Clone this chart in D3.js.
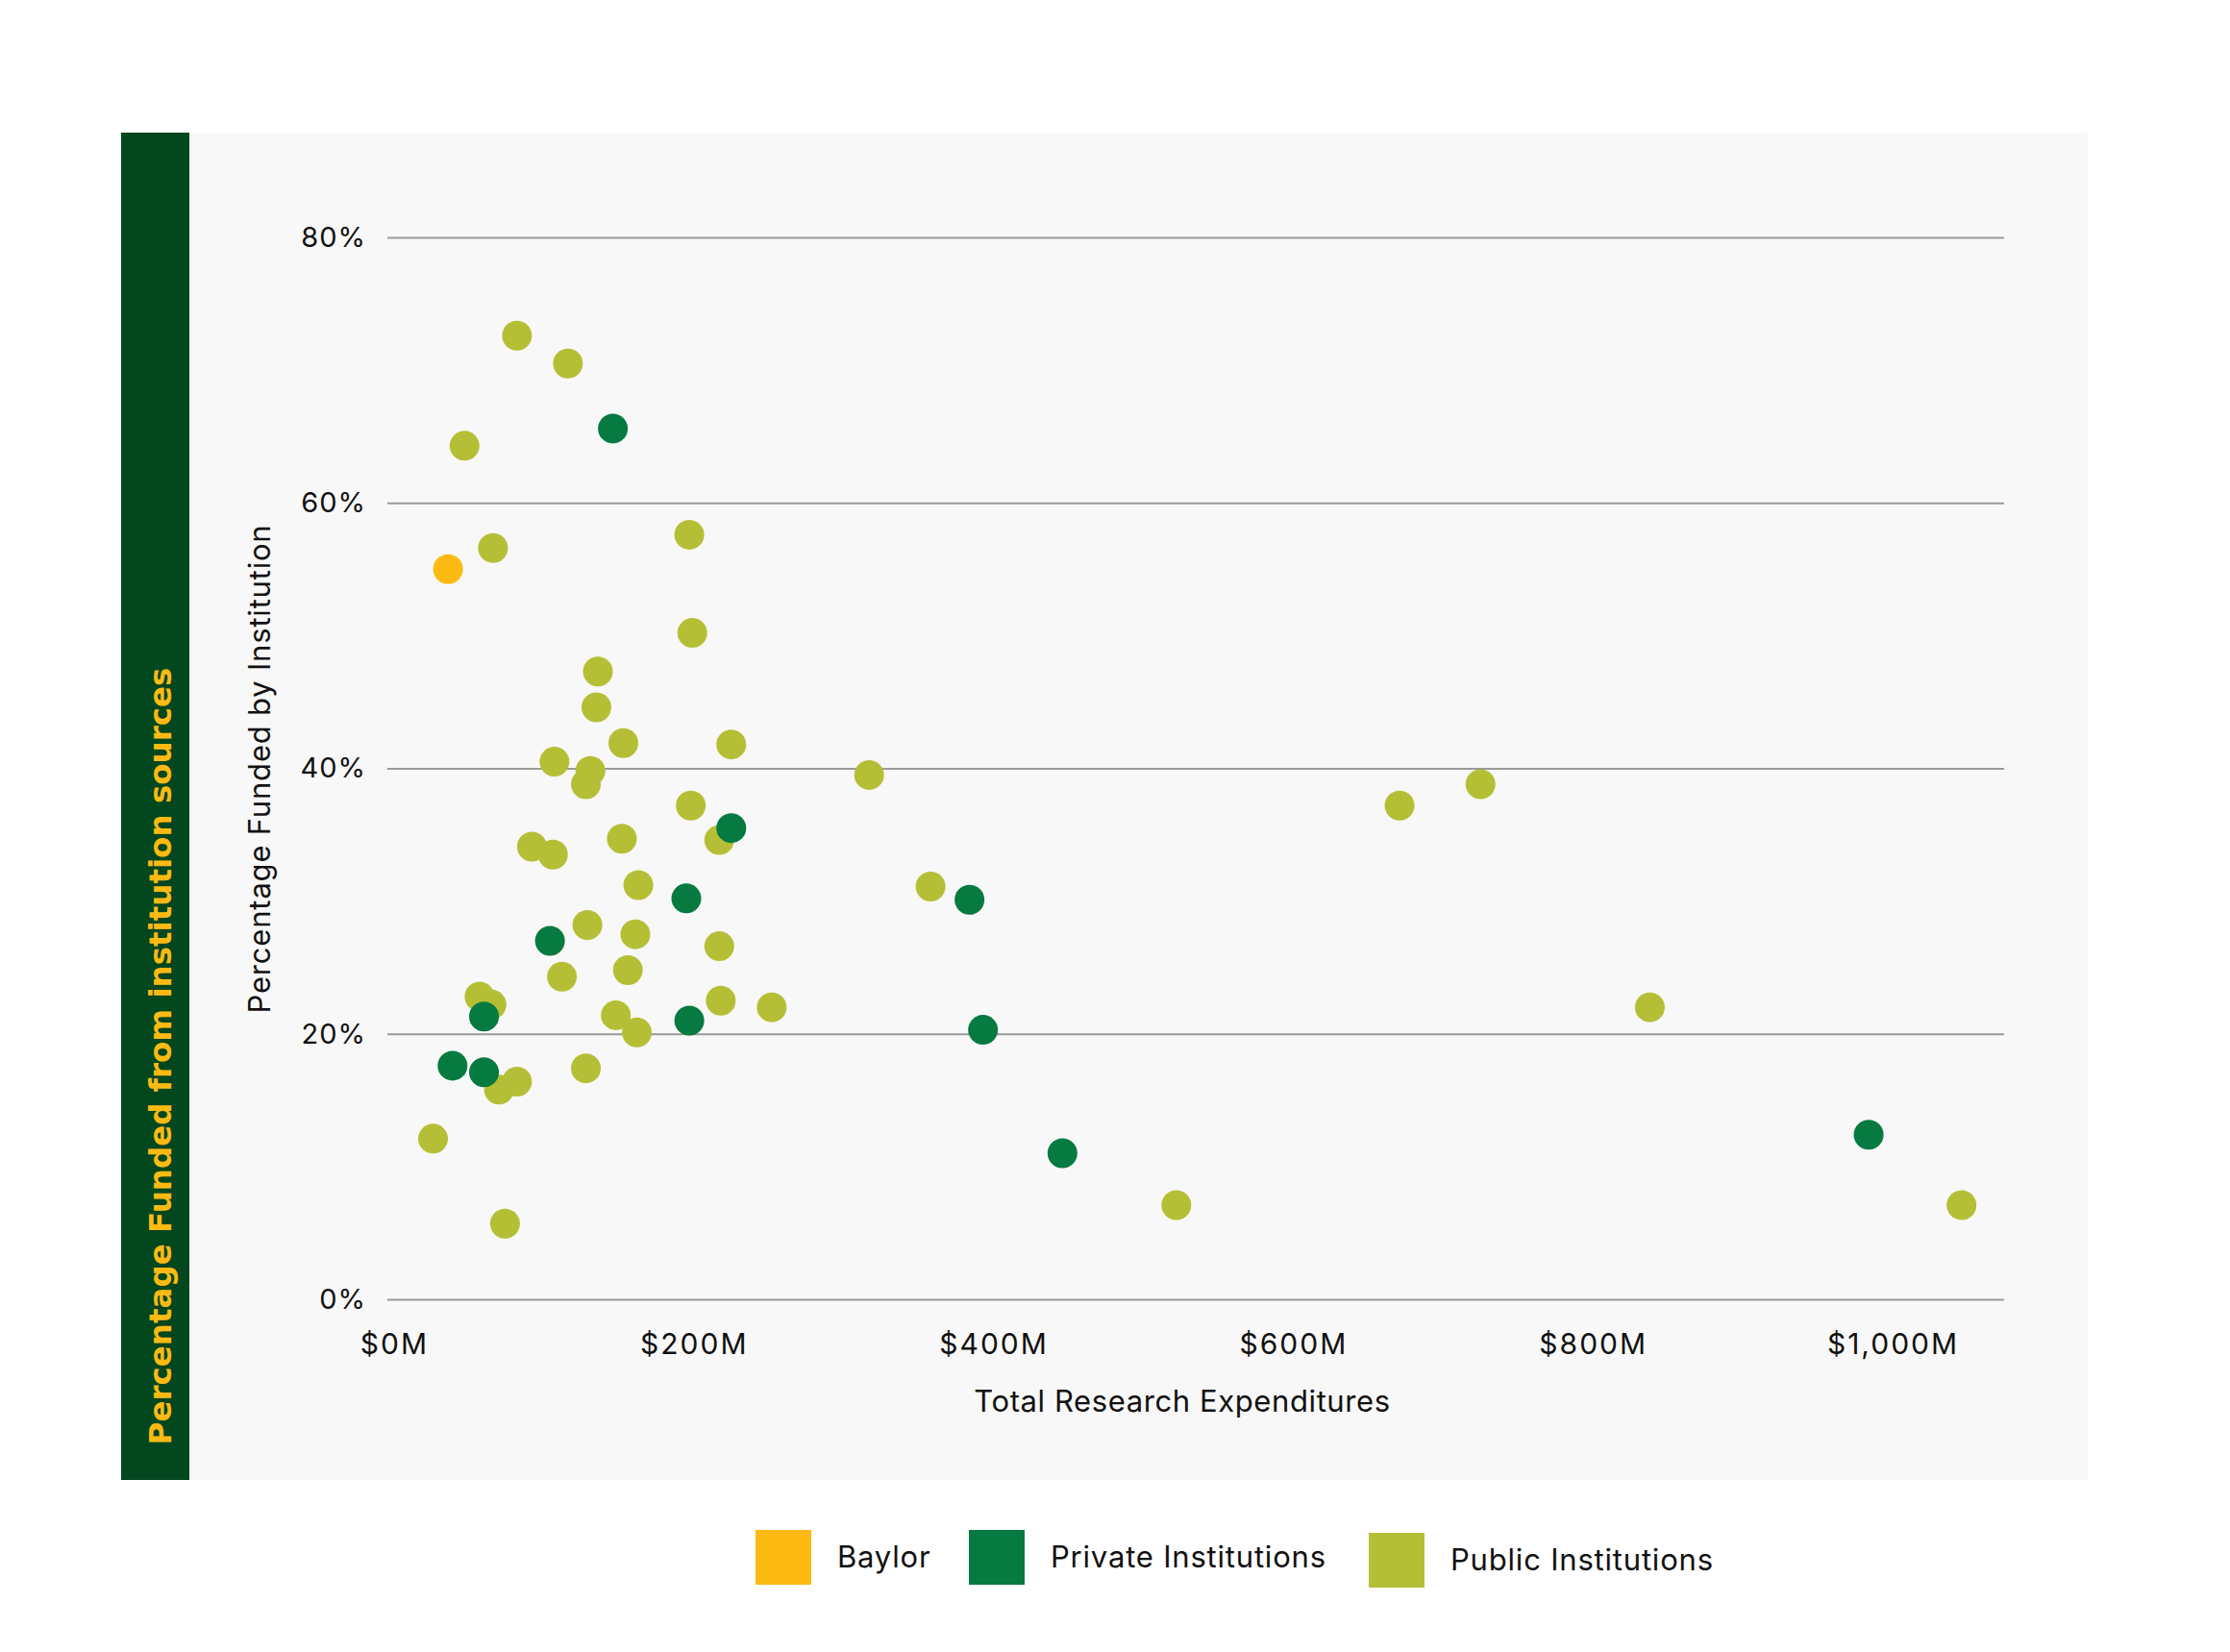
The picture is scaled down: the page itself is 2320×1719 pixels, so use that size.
<!DOCTYPE html>
<html>
<head>
<meta charset="utf-8">
<script src="https://cdn.jsdelivr.net/npm/d3@7"></script>
<style>
  body { margin: 0; background: #fff; }
  svg text { font-family: Inter, "Liberation Sans", Arial, sans-serif; fill: #111; }
</style>
</head>
<body>
<div class="chart"></div>
<script>
// values: expenditures in $M, funded share in %
const baylorX = [36];
const baylorY = [55.0];

const privateX = [146, 225, 195, 104, 60, 197, 39, 60, 384, 393, 446, 984];
const privateY = [65.6, 35.5, 30.2, 27.0, 21.3, 21.0, 17.6, 17.1, 30.1, 20.3, 11.0, 12.4];

const publicX = [82, 116, 47, 66, 197, 199, 136, 135, 153, 225, 107, 131, 128, 198, 317,
                 92, 106, 152, 217, 163, 129, 161, 217, 112, 156, 57, 65, 148, 162, 218,
                 252, 128, 82, 70, 26, 74, 358, 522, 671, 725, 838, 1046];
const publicY = [72.6, 70.5, 64.3, 56.6, 57.6, 50.2, 47.3, 44.6, 41.9, 41.8, 40.5, 39.8, 38.8, 37.2, 39.5,
                 34.1, 33.5, 34.7, 34.6, 31.2, 28.2, 27.5, 26.6, 24.3, 24.8, 22.8, 22.2, 21.4, 20.1, 22.5,
                 22.0, 17.4, 16.4, 15.8, 12.1, 5.7, 31.1, 7.1, 37.2, 38.8, 22.0, 7.1];

const xTicks = [0, 200, 400, 600, 800, 1000];
const yTicks = [0, 20, 40, 60, 80];

const legendOrder = ['Baylor', 'Private Institutions', 'Public Institutions'];
const colors = {'Baylor': '#fdba13', 'Private Institutions': '#067a40', 'Public Institutions': '#b5bf36'};

const width = 2320, height = 1719;

const svg = d3.select('.chart').append('svg')
    .attr('width', width).attr('height', height);

svg.append('rect').attr('width', width).attr('height', height).attr('fill', '#fff');

// side band + grey panel
svg.append('rect').attr('x', 126).attr('y', 138).attr('width', 71).attr('height', 1402).attr('fill', '#03471f');
svg.append('rect').attr('x', 197).attr('y', 138).attr('width', 1975).attr('height', 1402).attr('fill', '#f8f8f8');

svg.append('text')
    .attr('transform', 'translate(166,1099) rotate(-90)')
    .attr('text-anchor', 'middle')
    .attr('dy', '0.36em')
    .style('font-family', '"DejaVu Sans", sans-serif')
    .style('font-weight', 'bold')
    .style('font-size', '32.5px')
    .style('fill', '#fdba13')
    .text('Percentage Funded from institution sources');

const xScale = d3.scaleLinear().domain([0, 1000]).range([410, 1969]);
const yScale = d3.scaleLinear().domain([0, 80]).range([1352, 247]);

const gridLeft = 403, gridRight = 2085;

const yAxis = d3.axisLeft(yScale)
    .tickValues(yTicks)
    .tickFormat(d => d + '%')
    .tickSize(-(gridRight - gridLeft))
    .tickPadding(22);
const yAxisDraw = svg.append('g').attr('class', 'y axis')
    .attr('transform', `translate(${gridLeft},0)`)
    .call(yAxis);
yAxisDraw.select('.domain').remove();
yAxisDraw.selectAll('line').attr('stroke', '#9a9a9a').attr('stroke-width', 2);
yAxisDraw.selectAll('text').style('font-size', '29px').style('letter-spacing', '1px').style('fill', '#111');

const xAxis = d3.axisBottom(xScale)
    .tickValues(xTicks)
    .tickFormat(d => d3.format('$,')(d) + 'M')
    .tickSize(0)
    .tickPadding(0);
const xAxisDraw = svg.append('g').attr('class', 'x axis')
    .attr('transform', 'translate(0,1388)')
    .call(xAxis);
xAxisDraw.select('.domain').remove();
xAxisDraw.selectAll('text').style('font-size', '30px').style('letter-spacing', '2px').style('fill', '#111');

svg.append('text')
    .attr('x', 1230).attr('y', 1458)
    .attr('dy', '0.36em')
    .attr('text-anchor', 'middle')
    .style('font-size', '31px')
    .style('letter-spacing', '0.6px')
    .text('Total Research Expenditures');

svg.append('text')
    .attr('transform', 'translate(270,800) rotate(-90)')
    .attr('text-anchor', 'middle')
    .attr('dy', '0.36em')
    .style('font-size', '31px')
    .style('letter-spacing', '0.8px')
    .text('Percentage Funded by Institution');

// points: public first, private and Baylor on top
const points = [];
publicX.forEach((x, i) => points.push({group: 'Public Institutions', x: x, y: publicY[i]}));
privateX.forEach((x, i) => points.push({group: 'Private Institutions', x: x, y: privateY[i]}));
baylorX.forEach((x, i) => points.push({group: 'Baylor', x: x, y: baylorY[i]}));

svg.append('g').attr('class', 'dots')
  .selectAll('circle')
  .data(points)
  .join('circle')
    .attr('cx', d => xScale(d.x))
    .attr('cy', d => yScale(d.y))
    .attr('r', 15.5)
    .attr('fill', d => colors[d.group]);

// legend
const legendPos = {'Baylor': [786, 1592], 'Private Institutions': [1008, 1592], 'Public Institutions': [1424, 1595]};
const legend = svg.append('g').attr('class', 'legend');
legendOrder.forEach(name => {
    const g = legend.append('g').attr('transform', `translate(${legendPos[name][0]},${legendPos[name][1]})`);
    g.append('rect').attr('width', 58).attr('height', 57).attr('fill', colors[name]);
    g.append('text').attr('x', 85).attr('y', 28).attr('dy', '0.36em')
        .style('font-size', '31px')
        .style('letter-spacing', '0.8px')
        .text(name);
});
</script>
</body>
</html>
